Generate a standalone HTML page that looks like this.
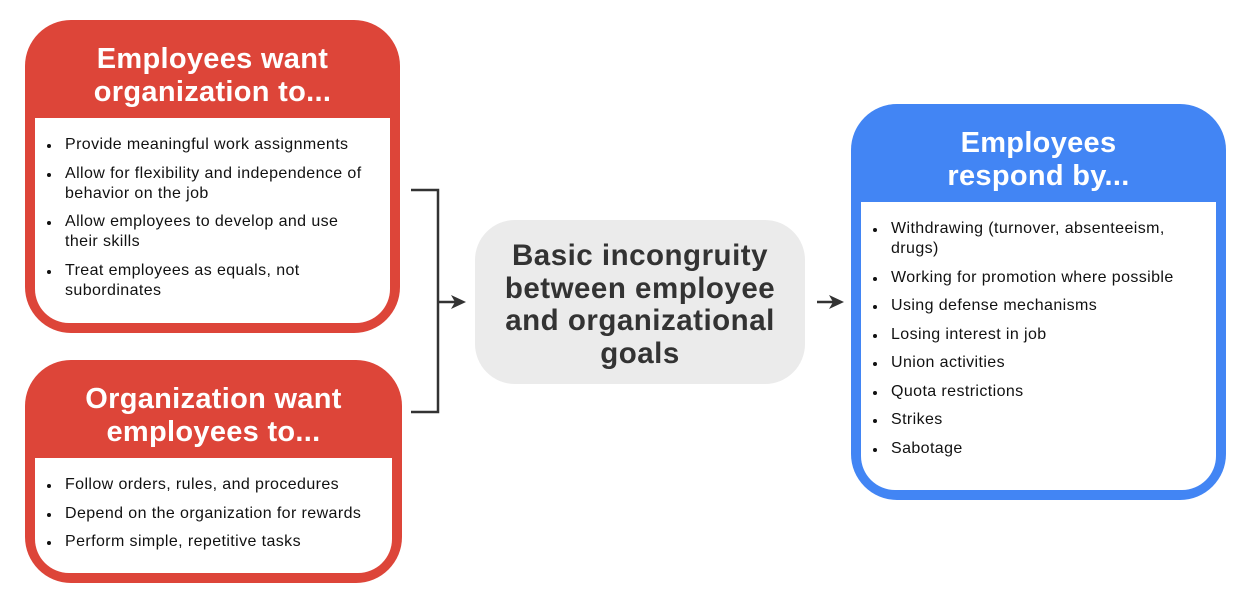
<!DOCTYPE html>
<html><head><meta charset="utf-8"><style>
body{margin:0;width:1251px;height:605px;background:#fff;position:relative;overflow:hidden;font-family:"Liberation Sans",sans-serif;}
.box{position:absolute;border-radius:46px;}
.red{background:#dd4539}.blue{background:#4285f4}
.hd{position:absolute;left:0;right:0;text-align:center;color:#fff;font-weight:bold;font-size:29px;letter-spacing:0.3px;line-height:33px;white-space:nowrap;}
.in{position:absolute;background:#fff;border-radius:0 0 34px 34px;}
ul{margin:0;padding:0;list-style:none;}
li{position:relative;padding-left:30px;font-size:16px;letter-spacing:0.4px;line-height:20px;color:#111;margin-bottom:8.5px;white-space:nowrap;}
li:before{content:"";position:absolute;left:12px;top:9px;width:4px;height:4px;border-radius:50%;background:#111;}
.c{position:absolute;left:475px;top:220px;width:330px;height:164px;background:#ebebeb;border-radius:40px;text-align:center;font-weight:bold;font-size:29.5px;letter-spacing:0.5px;line-height:32.5px;color:#333;white-space:nowrap;}
</style></head><body>
<div class="box red" style="left:25px;top:20px;width:375px;height:313px;">
 <div class="hd" style="top:23px;">Employees want<br>organization to...</div>
 <div class="in" style="left:10px;top:98px;width:355px;height:205px;">
  <ul style="padding-top:17px;">
   <li>Provide meaningful work assignments</li>
   <li>Allow for flexibility and independence of<br>behavior on the job</li>
   <li>Allow employees to develop and use<br>their skills</li>
   <li>Treat employees as equals, not<br>subordinates</li>
  </ul></div>
</div>
<div class="box red" style="left:25px;top:360px;width:377px;height:223px;">
 <div class="hd" style="top:23px;">Organization want<br>employees to...</div>
 <div class="in" style="left:10px;top:98px;width:357px;height:115px;">
  <ul style="padding-top:17px;">
   <li>Follow orders, rules, and procedures</li>
   <li>Depend on the organization for rewards</li>
   <li>Perform simple, repetitive tasks</li>
  </ul></div>
</div>
<div class="box blue" style="left:851px;top:104px;width:375px;height:396px;">
 <div class="hd" style="top:23px;">Employees<br>respond by...</div>
 <div class="in" style="left:10px;top:98px;width:355px;height:288px;">
  <ul style="padding-top:17px;">
   <li>Withdrawing (turnover, absenteeism,<br>drugs)</li>
   <li>Working for promotion where possible</li>
   <li>Using defense mechanisms</li>
   <li>Losing interest in job</li>
   <li>Union activities</li>
   <li>Quota restrictions</li>
   <li>Strikes</li>
   <li>Sabotage</li>
  </ul></div>
</div>
<div class="c"><div style="padding-top:20px;">Basic incongruity<br>between employee<br>and organizational<br>goals</div></div>
<svg width="1251" height="605" style="position:absolute;left:0;top:0;">
 <path d="M411 190 H438 V412 H411 M438 302 H458" fill="none" stroke="#333" stroke-width="2.5"/>
 <path d="M466 302 L451 295 L455 302 L451 309 Z" fill="#333"/>
 <path d="M817 302 H836" fill="none" stroke="#333" stroke-width="2.5"/>
 <path d="M844 302 L829 295 L833 302 L829 309 Z" fill="#333"/>
</svg>
</body></html>
